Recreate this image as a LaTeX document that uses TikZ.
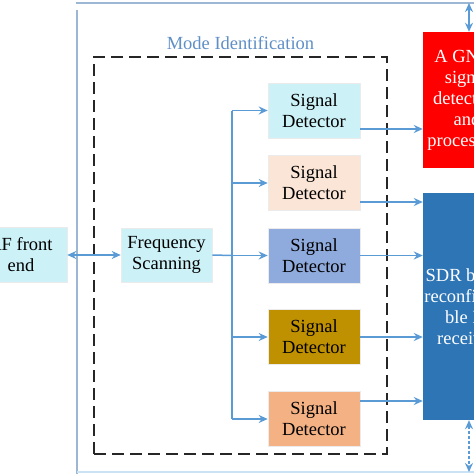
\documentclass[tikz,border=0pt]{standalone}
\usepackage{fontspec}
\setmainfont{Liberation Serif}
\usetikzlibrary{arrows.meta}

\definecolor{cyanfill}{HTML}{CCF2F8}
\definecolor{peachfill}{HTML}{FBE5D6}
\definecolor{lavfill}{HTML}{8FAADC}
\definecolor{goldfill}{HTML}{BF9000}
\definecolor{orangefill}{HTML}{F4B183}
\definecolor{sdrblue}{HTML}{2E75B6}
\definecolor{linkblue}{HTML}{5B9BD5}
\definecolor{labelblue}{HTML}{5F8FC6}
\definecolor{framegray}{HTML}{9DB6D3}
\definecolor{framelight}{HTML}{C9E2F5}

\tikzset{
  blockbox/.style={minimum width=92pt, minimum height=55pt, inner sep=0pt,
    align=center, draw=black!8, line width=0.6pt,
    font=\fontsize{18.5}{21}\selectfont},
  bigbox/.style={minimum width=88pt, inner sep=0pt, align=center,
    text=white, font=\fontsize{18.5}{21}\selectfont},
  flow/.style={color=linkblue, line width=1.5pt},
  flowto/.style={flow, -{Stealth[length=9pt,width=8pt]}},
  flowboth/.style={flow, {Stealth[length=9pt,width=8pt]}-{Stealth[length=9pt,width=8pt]}},
}

\begin{document}
\begin{tikzpicture}[x=1pt,y=-1pt]
    \useasboundingbox (0,0) rectangle (474,474);
    \clip (0,0) rectangle (474,474);
    % outer frame
    \draw [color=framegray, line width=1.2pt] (76,3) -- (474,3);
    \draw [color=framegray, line width=1.2pt] (77,10) -- (77,474);
    \draw [color=framelight, line width=2.5pt] (77,472) -- (474,472);
    % mode identification
    \node [draw=black!85, dash pattern=on 12pt off 6pt, line width=1.8pt,
      minimum width=293pt, minimum height=397pt] (modebox) at (240.5,255.5) {};
    \node [text=labelblue, font=\fontsize{18.5}{21}\selectfont] (modelabel) at (240.5,43) {Mode Identification};
    % blocks
    \node [blockbox, fill=cyanfill, minimum width=92pt] (rf) at (21,255) {RF front\\end};
    \node [blockbox, fill=cyanfill, minimum width=91pt, minimum height=54pt] (freq) at (166.5,255) {Frequency\\Scanning};
    \node [blockbox, fill=cyanfill] (det1) at (314,110.5) {Signal\\Detector};
    \node [blockbox, fill=peachfill] (det2) at (314,183) {Signal\\Detector};
    \node [blockbox, fill=lavfill] (det3) at (314,255.5) {Signal\\Detector};
    \node [blockbox, fill=goldfill] (det4) at (314,337) {Signal\\Detector};
    \node [blockbox, fill=orangefill] (det5) at (314,419) {Signal\\Detector};
    \node [bigbox, fill=red, minimum height=136pt] (gnss) at (467,100) {A GNSS\\signal\\detection\\and\\processing};
    \node [bigbox, fill=sdrblue, minimum height=227pt] (sdr) at (467,306.5) {SDR based\\reconfigura\\ble IF\\receiver};
    % connectors
    \coordinate (bus) at (232,255.5);
    \coordinate (topbus) at (469,3);
    \coordinate (botbus) at (469,472);
    \draw [flowboth] (rf.east) -- (freq.west);
    \draw [flow] (freq.east) -- (bus);
    \draw [flow] (bus |- det1.west) -- (bus |- det5.west);
    \foreach \d in {det1,det2,det3,det4,det5}
        \draw [flowto] (bus |- \d.west) -- (\d.west);
    \draw [flowto] ([yshift=-18.5pt]det1.east) -- ([yshift=-18.5pt]det1.east -| gnss.west);
    \draw [flowto] ([yshift=-19pt]det2.east) -- ([yshift=-19pt]det2.east -| sdr.west);
    \draw [flowto] (det3.east) -- (det3.east -| sdr.west);
    \draw [flowto] (det4.east) -- (det4.east -| sdr.west);
    \draw [flowto] ([yshift=18pt]det5.east) -- ([yshift=18pt]det5.east -| sdr.west);
    \draw [flowboth] (topbus) -- (topbus |- gnss.north);
    \draw [flowboth, dash pattern=on 3pt off 2pt] (sdr.south -| botbus) -- (botbus);
\end{tikzpicture}
\end{document}
